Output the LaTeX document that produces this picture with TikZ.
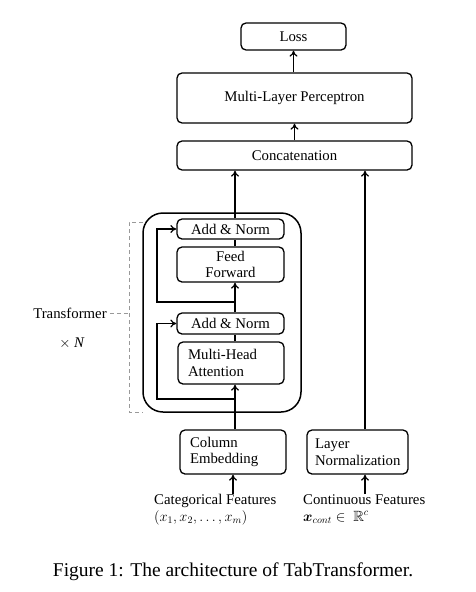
\documentclass[tikz,border=0pt]{standalone}
\usepackage{amsmath,amssymb,bm}
\usepackage{fontspec}
\setmainfont{Liberation Serif}
\usetikzlibrary{arrows.meta}
\begin{document}
\begin{tikzpicture}[x=1pt,y=-1pt,
  box/.style={draw, line width=1.3pt, rounded corners=5pt, align=center,
    font=\fontsize{14.8}{16.5}\selectfont, inner sep=0pt},
  lbox/.style={box, align=left, inner xsep=10pt},
  arr/.style={-{To[length=6pt,width=8pt]}, line width=1.2pt},
  ln/.style={line width=1.2pt},
  lbl/.style={font=\fontsize{14.8}{16}\selectfont, inner sep=0pt},
  brk/.style={gray!80, dash pattern=on 4pt off 3pt, line width=0.6pt}]
\useasboundingbox (0,0) rectangle (475,592);

\node[box, minimum width=105pt, minimum height=27pt] (loss) at (293.5,36.5) {Loss};
\node[box, minimum width=235pt, minimum height=50pt] (mlp) at (294.5,98) {Multi-Layer Perceptron};
\node[box, minimum width=235pt, minimum height=29pt] (cat) at (294.5,155.5) {Concatenation};

\node[draw, line width=1.5pt, rounded corners=20pt, minimum width=158pt, minimum height=199pt] (outer) at (222,312.5) {};

\node[box, minimum width=107pt, minimum height=20pt] (an1) at (230.5,229) {Add \& Norm};
\node[box, minimum width=107pt, minimum height=35pt] (ff) at (230.5,264.5) {Feed\\Forward};
\node[box, minimum width=107pt, minimum height=21pt] (an2) at (230.5,323.5) {Add \& Norm};
\node[lbox, text width=86pt, minimum height=42pt] (mha) at (231,363) {Multi-Head\\Attention};

\node[lbox, text width=86pt, minimum height=44pt] (ce) at (233,452) {Column\\Embedding};
\node[lbox, inner xsep=8pt, text width=85pt, minimum height=44pt] (lnorm) at (357.5,452) {Layer\\Normalization};

\node[lbl, align=left, anchor=north west] (catf) at (154,494) {Categorical Features\\[1pt]$(x_1, x_2, \ldots, x_m)$};
\node[lbl, align=left, anchor=north west] (conf) at (303,494) {Continuous Features\\[1pt]$\bm{x}_{cont} \in\ \mathbb{R}^c$};

\node[lbl] (tr) at (70,313) {Transformer};
\node[lbl] (tn) at (72,343) {$\times$ \textit{N}};

\node[font=\fontsize{19.5}{21}\selectfont, inner sep=0pt] (caption) at (233,572) {Figure 1: The architecture of TabTransformer.};

\coordinate (sp) at (235,0);
\coordinate (lx) at (157,0);
\coordinate (rx) at (365,0);
\coordinate (r1) at (235,302);
\coordinate (r2) at (235,399);

% main spine
\draw[arr] (ce.north -| sp) -- (mha.south -| sp);
\draw[ln] (mha.north -| sp) -- (an2.south -| sp);
\draw[arr] (an2.north -| sp) -- (ff.south -| sp);
\draw[ln] (ff.north -| sp) -- (an1.south -| sp);
\draw[arr] (an1.north -| sp) -- (cat.south -| sp);
% residuals
\draw[arr] (r2) -| (lx |- an2.west) -- (an2.west);
\draw[arr] (r1) -| (lx |- an1.west) -- (an1.west);
% right branch
\draw[arr] (lnorm.north -| rx) -- (cat.south -| rx);
% top
\draw[arr] (cat.north) -- (mlp.south);
\draw[arr] (mlp.north -| loss) -- (loss.south);
% inputs
\draw[arr] (catf.north -| ce) -- (ce.south);
\draw[arr] (conf.north -| rx) -- (lnorm.south -| rx);

% dashed bracket
\coordinate (bt) at (129,222);
\coordinate (bb) at (129,412);
\draw[brk] (143,222) -- (bt) -- (bb) -- (143,412);
\draw[brk] (tr.east) ++(3pt,0) -- (tr.east -| bt);
\end{tikzpicture}
\end{document}
